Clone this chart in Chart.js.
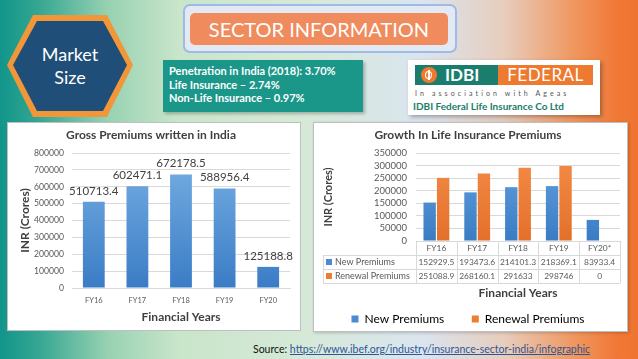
<!DOCTYPE html>
<html>
<head>
<meta charset="utf-8">
<script src="https://cdn.jsdelivr.net/npm/chart.js@4.4.1/dist/chart.umd.min.js"></script>
<style>
  html, body { margin: 0; padding: 0; }
  body {
    width: 638px; height: 359px; position: relative; overflow: hidden;
    font-family: Lato, "Open Sans", sans-serif;
    background: linear-gradient(90deg, #11958a 0%, #35a692 6%, #98d2b2 17%, #c9e5ca 28%, #d6e9d8 48%, #dae5ef 66%, #e7cdbd 79%, #f0975f 90%, #f07735 97%, #ef7431 100%);
  }
  .abs { position: absolute; }
  #hex { left: 0; top: 0; }
  #sectorOuter { left: 183px; top: 4px; width: 270px; height: 45px; background: #e3e9f2; border: 2px solid #9dbbe6; border-radius: 7px; }
  #sectorInner { left: 190px; top: 13px; width: 258px; height: 32px; background: #ef8b5d; border-radius: 5px;
    color: #fff; font-size: 20px; line-height: 32px; text-align: center; }
  #info { left: 163px; top: 60px; width: 200px; height: 52px; background: #1b978a; box-shadow: 2px 2px 3px rgba(0,0,0,0.25);
    color: #fff; font-weight: bold; font-size: 11px; line-height: 13.5px; padding: 4px 0 0 6px; box-sizing: border-box; white-space: nowrap; }
  #logo { left: 408px; top: 60px; width: 192px; height: 55px; background: #fff; box-shadow: 2px 2px 4px rgba(0,0,0,0.3); }
  #logoTeal { left: 7px; top: 5px; width: 83px; height: 20px; background: #1b7d6e; color: #fff; font-weight: bold; font-size: 17px; line-height: 20px; }
  #logoTeal span { position: absolute; left: 30px; top: 0; }
  #logoIcon { position: absolute; left: 6px; top: 2px; width: 16px; height: 16px; border-radius: 50%; background: #ef7a2f; }
  #logoIcon i { position: absolute; left: 7px; top: 3px; width: 2px; height: 10px; background: #fff; }
  #logoIcon b { position: absolute; left: 4px; top: 4px; width: 5px; height: 6px; border: 1px solid #fff; border-radius: 50%; }
  #logoOrange { left: 90px; top: 5px; width: 95px; height: 20px; background: #ee7a2f; color: #fff; font-size: 17px; line-height: 20px; text-align: center; letter-spacing: 0.5px; }
  #logoAssoc { left: 7px; top: 29px; width: 180px; font-size: 7px; color: #555; letter-spacing: 3.1px; white-space: nowrap; }
  #logoName { left: 5px; top: 40px; width: 184px; font-size: 10px; font-weight: bold; color: #1a7e6a; white-space: nowrap; }
  .box { background: #fff; border: 1px solid #bfbfbf; }
  #boxL { left: 7px; top: 122px; width: 292px; height: 207px; }
  #boxR { left: 313px; top: 122px; width: 313px; height: 208px; box-shadow: 1px 1px 3px rgba(0,0,0,0.2); }
  #cL { left: 8px; top: 123px; }
  #cR { left: 314px; top: 123px; }
  #source { left: 253px; top: 343px; font-size: 10.5px; color: #111; white-space: nowrap; }
  #source a { color: #2f5597; text-decoration: underline; }
</style>
</head>
<body>
<svg id="hex" class="abs" width="140" height="122">
  <polygon points="7,65 33,15 107,15 133,65 107,117 33,117" fill="#f2963a"/>
  <polygon points="13,65 37,21 103,21 127,65 103,111 37,111" fill="#1f4e79"/>
  <text x="70" y="61" fill="#fff" font-family="Lato" font-size="18" text-anchor="middle">Market</text>
  <text x="70" y="84" fill="#fff" font-family="Lato" font-size="18" text-anchor="middle">Size</text>
</svg>
<div id="sectorOuter" class="abs"></div>
<div id="sectorInner" class="abs">SECTOR INFORMATION</div>
<div id="info" class="abs">Penetration in India (2018): 3.70%<br>Life Insurance – 2.74%<br>Non-Life Insurance – 0.97%</div>
<div id="logo" class="abs">
  <div id="logoTeal" class="abs"><div id="logoIcon"><b></b><i></i></div><span>IDBI</span></div>
  <div id="logoOrange" class="abs">FEDERAL</div>
  <div id="logoAssoc" class="abs">In association with Ageas</div>
  <div id="logoName" class="abs">IDBI Federal Life Insurance Co Ltd</div>
</div>
<div id="boxL" class="abs box"></div>
<div id="boxR" class="abs box"></div>
<canvas id="cL" class="abs" width="292" height="207"></canvas>
<canvas id="cR" class="abs" width="313" height="212"></canvas>
<div id="source" class="abs">Source: <a>https://www.ibef.org/industry/insurance-sector-india/infographic</a></div>

<script>
// data
const grossYears = ['FY16', 'FY17', 'FY18', 'FY19', 'FY20'];
const grossPremiums = [510713.4, 602471.1, 672178.5, 588956.4, 125188.8];

const lifeYears = ['FY16', 'FY17', 'FY18', 'FY19', 'FY20*'];
const newPremiums = [152929.5, 193473.6, 214101.3, 218369.1, 83933.4];
const renewalPremiums = [251088.9, 268160.1, 291633, 298746, 0];

const seriesNames = ['New Premiums', 'Renewal Premiums'];
const seriesColors = ['#4a8cd3', '#ed7d31'];

Chart.defaults.font.family = 'Lato';
Chart.defaults.color = '#595959';

function vGrad(chart, top, bottom) {
  const area = chart.chartArea;
  if (!area) return top;
  const g = chart.ctx.createLinearGradient(0, area.top, 0, area.bottom);
  g.addColorStop(0, top);
  g.addColorStop(1, bottom);
  return g;
}

// value labels on top of the gross premium bars
const barLabels = {
  id: 'barLabels',
  afterDatasetsDraw(chart) {
    const ctx = chart.ctx;
    ctx.save();
    ctx.font = '11.5px Lato';
    ctx.fillStyle = '#404040';
    ctx.textAlign = 'center';
    ctx.textBaseline = 'middle';
    chart.getDatasetMeta(0).data.forEach((bar, i) => {
      ctx.fillText(grossPremiums[i].toFixed(1), bar.x, bar.y - 11);
    });
    ctx.restore();
  }
};

// grid + row legend for the data table under the life chart
const ROW_H = 14;
const dataTable = {
  id: 'dataTable',
  afterDraw(chart) {
    const { ctx, chartArea } = chart;
    const n = lifeYears.length;
    const colW = (chartArea.right - chartArea.left) / n;
    const top = chartArea.bottom;
    const bottom = top + ROW_H * 3;
    const labelLeft = 9;
    ctx.save();
    ctx.strokeStyle = '#d9d9d9';
    ctx.lineWidth = 1;
    ctx.beginPath();
    for (let k = 0; k <= n; k++) {
      const xx = Math.round(chartArea.left + k * colW) + 0.5;
      ctx.moveTo(xx, top);
      ctx.lineTo(xx, bottom);
    }
    for (let r = 1; r <= 3; r++) {
      const yy = Math.round(top + r * ROW_H) + 0.5;
      ctx.moveTo(labelLeft, yy);
      ctx.lineTo(chartArea.right, yy);
    }
    ctx.moveTo(labelLeft + 0.5, top + ROW_H);
    ctx.lineTo(labelLeft + 0.5, bottom);
    ctx.stroke();

    ctx.font = '9px Lato';
    ctx.textAlign = 'left';
    ctx.textBaseline = 'middle';
    chart.data.datasets.forEach((ds, i) => {
      const cy = top + ROW_H * (i + 1.5);
      ctx.fillStyle = seriesColors[i];
      ctx.fillRect(labelLeft + 3, cy - 3, 6, 6);
      ctx.fillStyle = '#595959';
      ctx.fillText(ds.label, labelLeft + 12, cy);
    });
    ctx.restore();
  }
};

// left: gross premiums
new Chart(document.getElementById('cL'), {
  type: 'bar',
  data: {
    labels: grossYears,
    datasets: [{
      data: grossPremiums,
      backgroundColor: c => vGrad(c.chart, '#78b0e4', '#3a7cc5'),
      barPercentage: 0.5,
      categoryPercentage: 1
    }]
  },
  options: {
    responsive: false,
    animation: false,
    layout: { padding: { left: 4, right: 10, top: 0, bottom: 0 } },
    plugins: {
      legend: { display: false },
      tooltip: { enabled: false },
      title: {
        display: true,
        text: 'Gross Premiums written in India',
        color: '#404040',
        font: { size: 12, weight: 'bold' },
        padding: { top: 5, bottom: 10.6 }
      }
    },
    scales: {
      x: {
        grid: { display: false, drawTicks: false },
        border: { display: true, color: '#d9d9d9' },
        ticks: { font: { size: 7.5 }, padding: 8, color: '#595959', maxRotation: 0, autoSkip: false },
        title: { display: true, text: 'Financial Years', color: '#404040', font: { size: 12, weight: 'bold' }, padding: { top: 0, bottom: 6 } },
        afterFit: s => { s.height = 42; }
      },
      y: {
        min: 0,
        max: 800000,
        grid: { color: '#d9d9d9', drawTicks: false },
        border: { display: false },
        ticks: { stepSize: 100000, font: { size: 8.6 }, padding: 8, autoSkip: false, callback: v => String(v) },
        title: { display: true, text: 'INR (Crores)', color: '#404040', font: { size: 12, weight: 'bold' }, padding: { top: 6, bottom: 0 } },
        afterFit: s => { s.width = 60; }
      }
    }
  },
  plugins: [barLabels]
});

// right: life insurance premiums with a data table under the axis
new Chart(document.getElementById('cR'), {
  type: 'bar',
  data: {
    labels: lifeYears,
    datasets: [
      {
        label: seriesNames[0],
        data: newPremiums,
        backgroundColor: c => vGrad(c.chart, '#64a2de', '#3a7cc4'),
        barPercentage: 0.92,
        categoryPercentage: 0.66
      },
      {
        label: seriesNames[1],
        data: renewalPremiums,
        backgroundColor: c => vGrad(c.chart, '#f38c48', '#e4702a'),
        barPercentage: 0.92,
        categoryPercentage: 0.66
      }
    ]
  },
  options: {
    responsive: false,
    animation: false,
    layout: { padding: { left: 2, right: 7, top: 0, bottom: 0 } },
    plugins: {
      tooltip: { enabled: false },
      title: {
        display: true,
        text: 'Growth In Life Insurance Premiums',
        color: '#404040',
        font: { size: 12, weight: 'bold' },
        padding: { top: 5, bottom: 10.6 }
      },
      legend: {
        position: 'bottom',
        labels: {
          boxWidth: 7,
          boxHeight: 7,
          padding: 6,
          color: '#595959',
          font: { size: 12 },
          generateLabels: chart => chart.data.datasets.map((ds, i) => ({
            text: i < chart.data.datasets.length - 1 ? ds.label + '       ' : ds.label,
            fillStyle: seriesColors[i],
            strokeStyle: seriesColors[i],
            lineWidth: 0,
            datasetIndex: i
          }))
        }
      }
    },
    scales: {
      x: {
        grid: { display: false, drawTicks: false },
        border: { display: true, color: '#d9d9d9' },
        ticks: {
          font: { size: 8.4, lineHeight: '14px' },
          padding: 0,
          color: '#595959',
          maxRotation: 0,
          minRotation: 0,
          autoSkip: false,
          callback: (v, i) => [lifeYears[i], String(newPremiums[i]), String(renewalPremiums[i])]
        },
        title: { display: true, text: 'Financial Years', color: '#404040', font: { size: 12, weight: 'bold' }, padding: { top: 0, bottom: 7 } },
        afterFit: s => { s.height = 66; }
      },
      y: {
        min: 0,
        max: 350000,
        grid: { color: '#d9d9d9', drawTicks: false },
        border: { display: false },
        ticks: { stepSize: 50000, font: { size: 9.5 }, padding: 9, autoSkip: false, callback: v => String(v) },
        title: { display: true, text: 'INR (Crores)', color: '#404040', font: { size: 11, weight: 'bold' }, padding: { top: 5.4, bottom: 0 } },
        afterFit: s => { s.width = 100; }
      }
    }
  },
  plugins: [dataTable]
});
</script>
</body>
</html>
